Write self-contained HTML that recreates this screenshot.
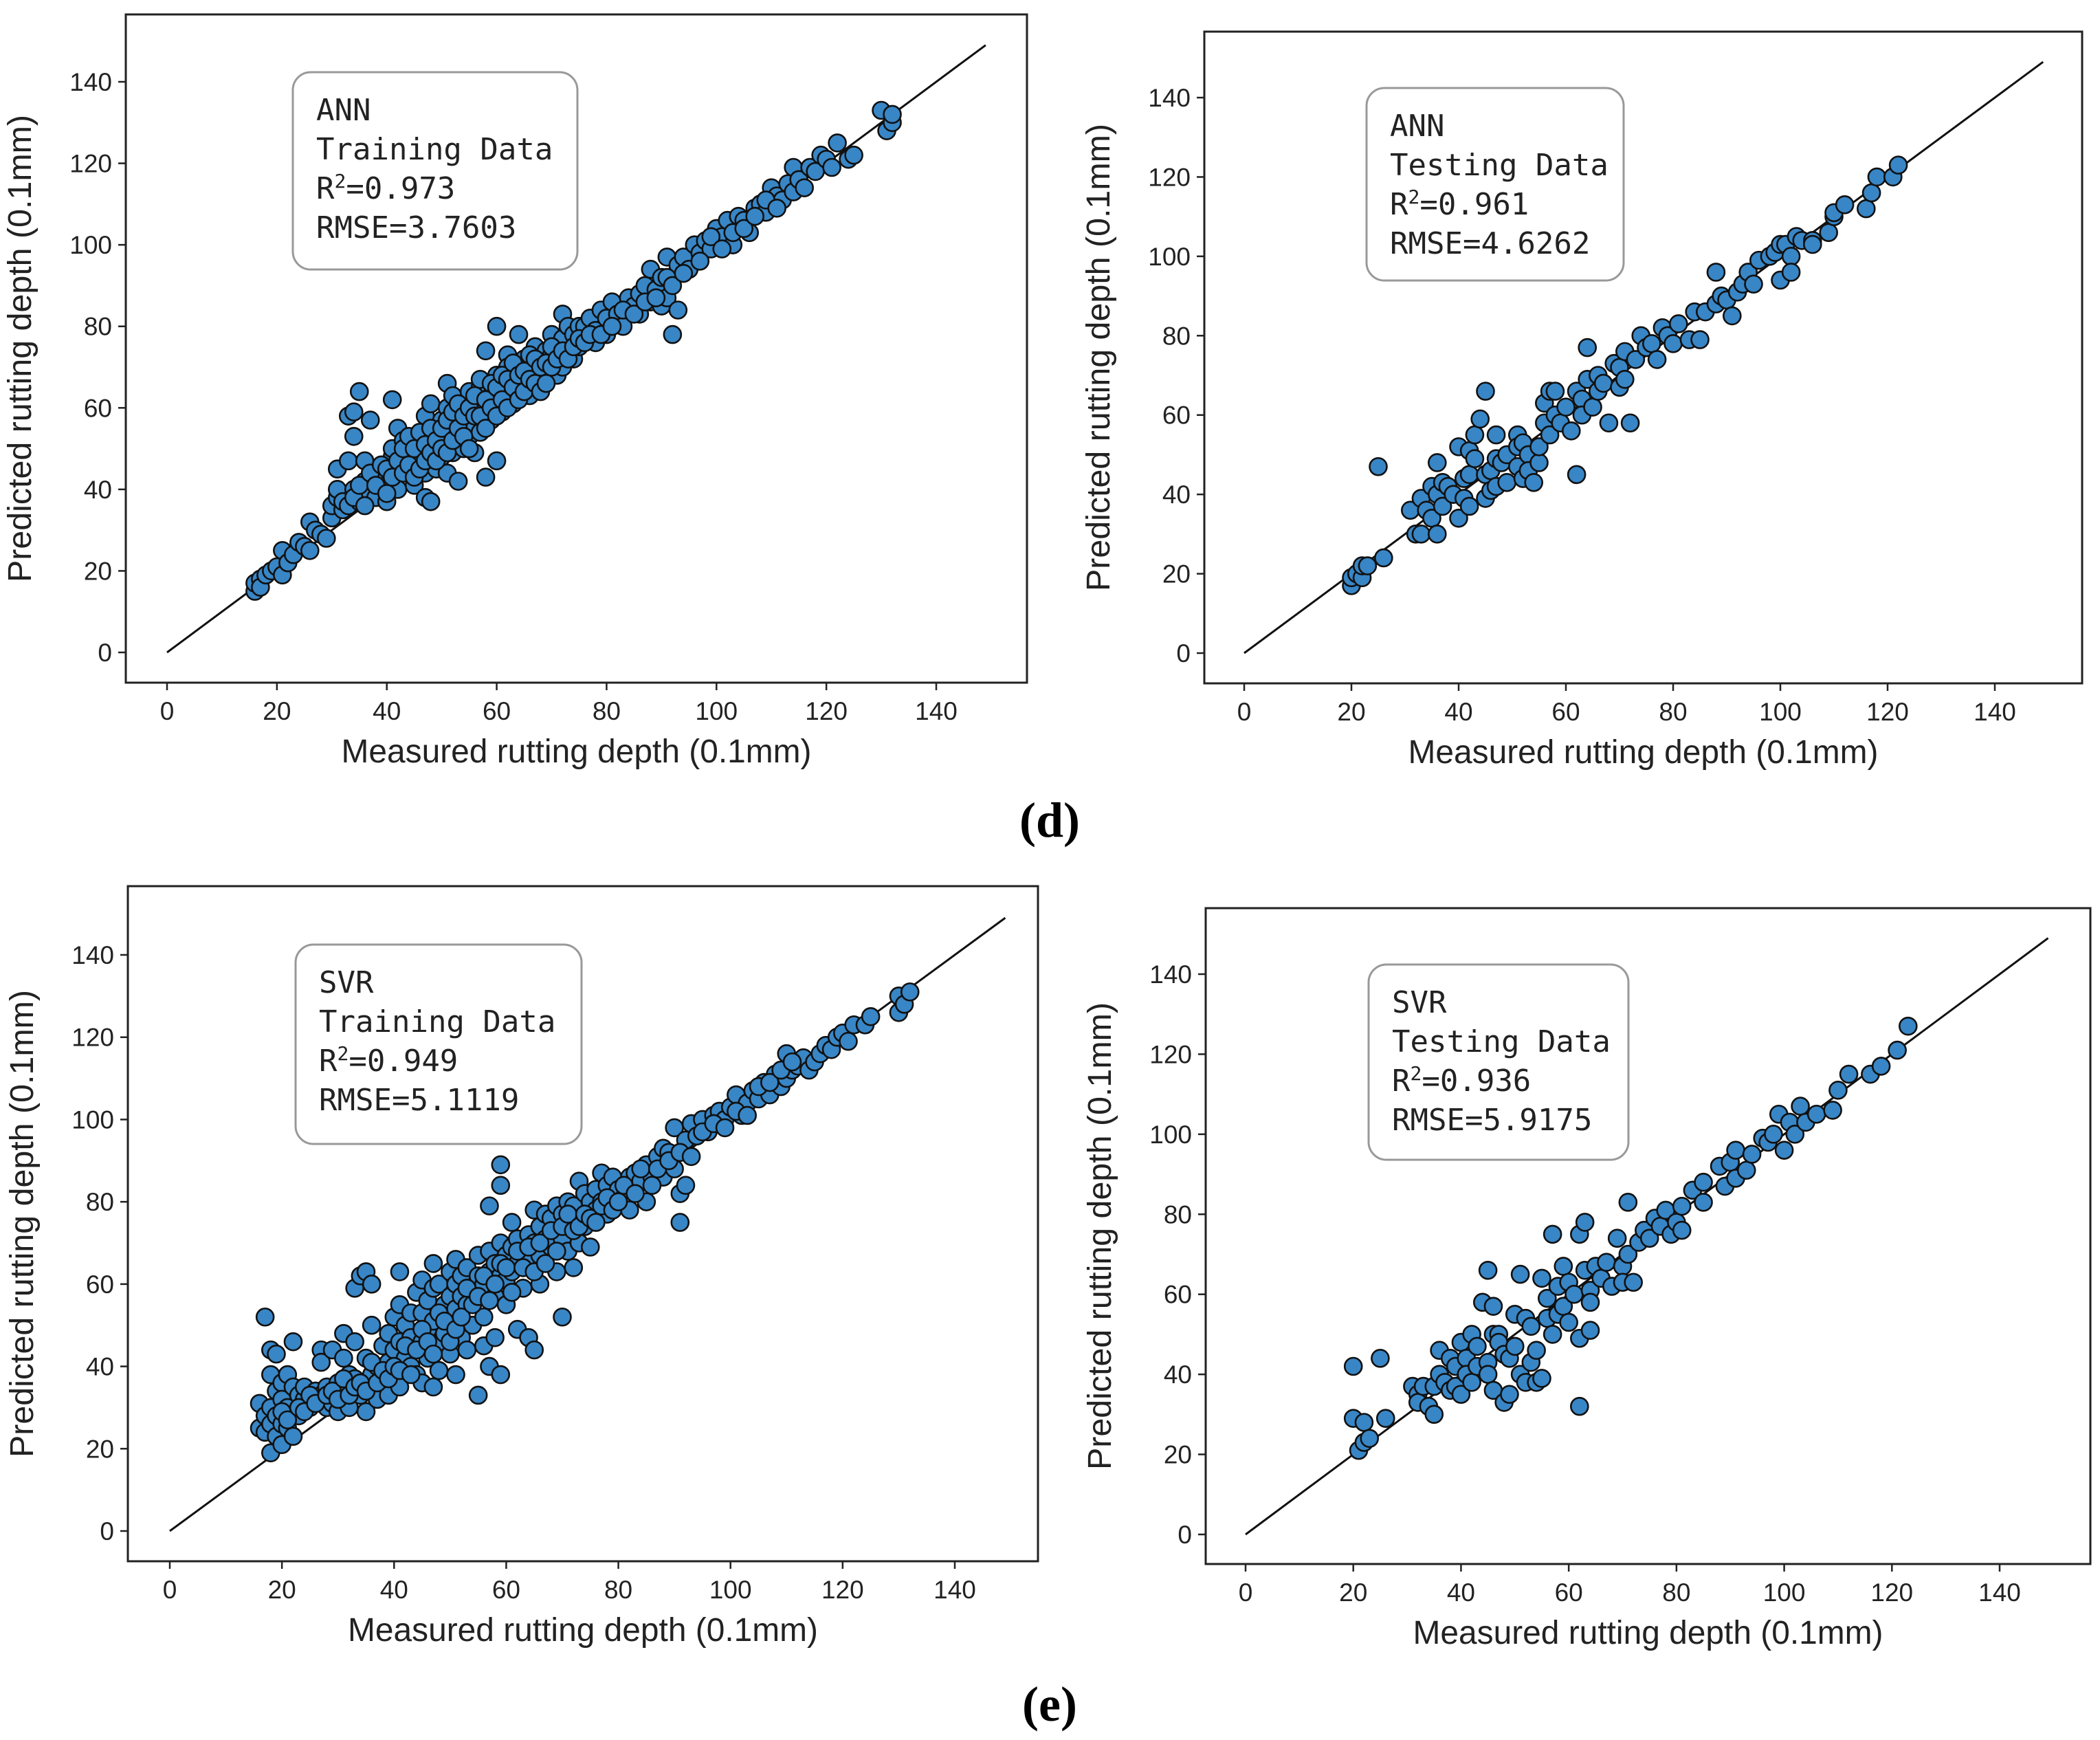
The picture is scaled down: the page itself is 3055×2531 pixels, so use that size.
<!DOCTYPE html>
<html><head><meta charset="utf-8">
<style>
html,body{margin:0;padding:0;background:#fff;}
svg{display:block;}
.tick{font-family:"Liberation Sans Narrow","Liberation Sans",sans-serif;font-size:37px;fill:#222;}
.axl{font-family:"Liberation Sans Narrow","Liberation Sans",sans-serif;font-size:48px;fill:#222;}
.box{font-family:"DejaVu Sans Mono","Liberation Mono",monospace;font-size:44px;fill:#222;}
.cap{font-family:"Liberation Serif",serif;font-size:72px;font-weight:bold;fill:#000;}
</style></head>
<body>
<svg id="fig" width="3055" height="2531" viewBox="0 0 3055 2531" xmlns="http://www.w3.org/2000/svg">
<text class="cap" x="1527" y="1217" text-anchor="middle">(d)</text>
<text class="cap" x="1527" y="2503" text-anchor="middle">(e)</text>
</svg>
<script>
const tickValues = [0,20,40,60,80,100,120,140];
const annTrainPts = [[16,15],[16,17],[17,18],[17,16],[18,19],[19,20],[20,21],[21,25],[21,19],[22,22],[23,24],[24,27],[25,26],[26,32],[26,25],[27,30],[28,29],[29,28],[30,33],[30,36],[31,45],[31,38],[31,40],[32,35],[32,37],[33,58],[33,47],[33,36],[34,53],[34,59],[34,40],[35,64],[35,37],[36,42],[36,47],[37,57],[37,39],[38,44],[38,38],[39,43],[40,41],[40,37],[41,62],[41,48],[41,50],[42,55],[42,45],[42,40],[43,52],[43,47],[44,49],[44,44],[45,46],[45,41],[46,52],[46,48],[47,58],[47,44],[47,38],[48,61],[48,52],[48,37],[49,55],[49,50],[49,45],[50,57],[50,53],[50,48],[51,66],[51,60],[51,44],[52,63],[52,55],[52,49],[53,58],[53,52],[53,42],[54,61],[54,56],[54,50],[55,64],[55,57],[55,53],[56,60],[56,55],[56,49],[57,65],[57,61],[57,54],[58,74],[58,66],[58,58],[58,43],[59,63],[59,57],[60,80],[60,68],[60,62],[60,47],[61,65],[61,59],[62,73],[62,70],[62,64],[63,68],[63,61],[64,78],[64,70],[64,65],[65,72],[65,66],[66,70],[66,63],[67,75],[67,69],[68,72],[68,66],[69,74],[69,68],[70,78],[70,73],[71,75],[71,68],[72,83],[72,77],[72,70],[73,80],[73,74],[74,78],[74,72],[75,80],[75,75],[76,80],[77,82],[78,79],[78,76],[79,84],[80,82],[80,78],[81,86],[82,83],[83,80],[84,87],[85,85],[86,88],[86,83],[87,90],[88,94],[88,86],[89,89],[90,92],[90,85],[91,97],[91,87],[92,78],[93,84],[93,95],[94,97],[95,94],[96,100],[97,98],[98,101],[99,99],[100,104],[101,102],[102,106],[103,100],[104,107],[105,106],[106,103],[107,109],[108,110],[109,108],[110,114],[111,112],[112,111],[113,115],[114,119],[114,113],[115,116],[116,114],[117,119],[118,118],[119,122],[120,121],[121,119],[122,125],[124,121],[125,122],[130,133],[131,128],[132,130],[132,132],
[34,38],[35,41],[36,36],[37,44],[38,41],[39,46],[40,45],[40,39],[41,43],[42,47],[43,44],[43,50],[44,46],[44,53],[45,50],[45,43],[46,45],[46,54],[47,47],[47,51],[48,49],[48,55],[49,52],[49,47],[50,50],[50,55],[51,49],[51,57],[52,52],[52,59],[53,55],[53,61],[54,53],[54,58],[55,60],[55,50],[56,58],[56,63],[57,58],[57,67],[58,62],[58,55],[59,60],[59,66],[60,58],[60,65],[61,62],[61,68],[62,60],[62,67],[63,65],[63,71],[64,62],[64,68],[65,64],[65,69],[66,67],[66,73],[67,66],[67,72],[68,70],[68,64],[69,71],[69,66],[70,70],[70,75],[71,72],[72,74],[73,72],[74,75],[75,77],[76,76],[77,78],[79,78],[81,80],[83,84],[85,83],[87,86],[89,87],[91,92],[92,90],[94,93],[97,96],[99,102],[101,99],[103,103],[105,104],[107,107],[109,111],[111,109]];
const annTestPts = [[20,17],[20,19],[21,20],[22,19],[22,22],[23,22],[26,24],[25,47],[31,36],[32,30],[33,39],[33,30],[34,36],[35,34],[35,42],[36,48],[36,30],[36,40],[37,43],[37,37],[38,42],[39,40],[40,52],[40,34],[41,44],[41,39],[42,51],[42,45],[42,37],[43,55],[43,49],[44,59],[45,66],[45,45],[45,39],[46,46],[46,41],[47,55],[47,49],[47,42],[48,48],[49,43],[49,50],[51,55],[51,52],[51,47],[52,53],[52,44],[53,50],[53,46],[54,43],[55,48],[55,52],[56,63],[56,58],[57,66],[57,55],[58,60],[58,66],[59,58],[60,62],[61,56],[62,45],[62,66],[63,64],[63,60],[64,69],[64,77],[65,62],[66,70],[66,66],[67,68],[68,58],[69,73],[70,72],[70,67],[71,76],[71,69],[72,58],[73,74],[74,80],[75,77],[76,78],[77,74],[78,82],[79,80],[80,78],[81,83],[83,79],[84,86],[85,79],[86,86],[88,96],[88,88],[89,90],[90,89],[91,85],[92,91],[93,93],[94,96],[95,93],[96,99],[98,100],[99,101],[100,94],[100,103],[101,103],[102,100],[102,96],[103,105],[104,104],[106,104],[106,103],[109,106],[110,110],[110,111],[112,113],[116,112],[117,116],[118,120],[121,120],[122,123]];
const svrTrainPts = [[16,31],[16,25],[17,28],[17,24],[17,52],[18,19],[18,44],[18,38],[18,30],[18,26],[19,43],[19,34],[19,28],[19,23],[20,36],[20,32],[20,26],[20,21],[21,38],[21,30],[21,25],[22,35],[22,46],[22,28],[22,23],[23,33],[23,28],[24,32],[24,35],[25,30],[26,34],[27,44],[27,41],[27,33],[28,35],[28,30],[29,44],[29,31],[30,36],[30,29],[31,48],[31,42],[31,34],[32,38],[32,30],[33,46],[33,59],[33,37],[34,62],[34,33],[35,63],[35,42],[35,29],[36,60],[36,38],[36,50],[36,34],[37,40],[37,32],[38,45],[38,36],[39,48],[39,41],[39,33],[40,52],[40,44],[40,37],[41,55],[41,63],[41,46],[41,35],[42,50],[42,42],[43,53],[43,47],[43,40],[44,58],[44,38],[45,61],[45,53],[45,46],[45,36],[46,56],[46,49],[46,42],[47,65],[47,59],[47,51],[47,35],[48,60],[48,45],[48,39],[49,55],[49,48],[50,63],[50,57],[50,51],[50,43],[51,66],[51,60],[51,54],[51,38],[52,62],[52,57],[52,47],[53,64],[53,55],[53,44],[54,59],[54,50],[55,67],[55,62],[55,33],[56,60],[56,52],[56,45],[57,79],[57,68],[57,63],[57,40],[58,65],[58,57],[58,47],[59,89],[59,84],[59,70],[59,62],[59,38],[60,67],[60,61],[60,55],[61,75],[61,69],[61,63],[62,71],[62,65],[62,49],[63,68],[63,59],[64,72],[64,66],[64,47],[65,78],[65,70],[65,44],[66,74],[66,67],[66,60],[67,77],[67,71],[68,76],[68,69],[69,79],[69,73],[69,63],[70,77],[70,71],[70,52],[71,80],[71,74],[71,68],[72,79],[72,64],[73,85],[73,76],[73,70],[74,82],[74,74],[75,80],[75,69],[76,83],[76,78],[77,87],[77,80],[78,84],[78,77],[79,86],[79,80],[80,83],[81,81],[82,86],[82,78],[83,87],[84,85],[85,89],[85,80],[86,86],[87,91],[88,93],[88,86],[89,92],[90,98],[90,88],[91,75],[91,82],[92,95],[92,84],[93,99],[94,96],[95,100],[96,97],[97,101],[98,102],[99,100],[100,103],[101,106],[102,101],[103,104],[104,107],[105,105],[106,109],[107,106],[108,111],[109,108],[110,116],[110,110],[111,112],[112,113],[113,115],[114,112],[115,114],[116,116],[117,118],[118,117],[119,120],[120,121],[121,119],[122,123],[124,123],[125,125],[130,130],[130,126],[131,128],[132,131],
[20,29],[21,27],[23,30],[24,29],[25,33],[26,31],[28,33],[29,34],[30,32],[31,37],[32,33],[33,35],[34,36],[35,34],[36,41],[37,36],[38,39],[39,37],[40,40],[41,39],[42,45],[43,38],[44,44],[45,49],[46,46],[47,43],[48,53],[49,51],[50,46],[51,49],[52,52],[53,59],[54,55],[55,57],[56,62],[57,56],[58,60],[59,65],[60,64],[61,58],[62,68],[63,64],[64,69],[65,63],[66,70],[67,65],[68,73],[69,68],[70,74],[71,77],[72,73],[73,74],[74,77],[75,76],[76,75],[77,79],[78,81],[79,78],[80,80],[81,84],[83,82],[84,88],[86,84],[87,88],[89,90],[91,92],[93,91],[95,97],[97,99],[99,98],[101,102],[103,101],[105,108],[107,109],[109,112],[111,114]];
const svrTestPts = [[20,42],[20,29],[21,21],[22,23],[22,28],[23,24],[25,44],[26,29],[31,37],[32,35],[32,33],[33,37],[34,32],[35,30],[35,37],[36,46],[36,40],[37,38],[38,44],[38,36],[39,42],[39,37],[40,48],[40,35],[41,44],[41,40],[42,50],[42,38],[43,47],[43,42],[44,58],[45,66],[45,43],[45,40],[46,57],[46,50],[46,36],[47,50],[47,48],[48,33],[48,45],[49,35],[49,44],[50,55],[50,47],[51,65],[51,40],[52,54],[52,38],[53,52],[53,43],[54,46],[54,38],[55,64],[55,39],[56,59],[56,54],[57,75],[57,50],[58,62],[58,55],[59,67],[59,57],[60,63],[60,53],[61,60],[62,75],[62,32],[62,49],[63,66],[63,78],[64,61],[64,51],[64,58],[65,67],[66,64],[67,68],[68,62],[69,74],[70,67],[70,63],[71,83],[71,70],[72,63],[73,73],[74,76],[75,74],[76,79],[77,77],[78,81],[79,75],[80,78],[81,82],[81,76],[83,86],[85,83],[85,88],[88,92],[89,87],[90,93],[91,89],[91,96],[93,91],[94,95],[96,99],[97,98],[98,100],[99,105],[100,96],[101,103],[102,100],[103,107],[104,103],[106,105],[109,106],[110,111],[112,115],[116,115],[118,117],[121,121],[123,127]];
const modelNames = ["ANN","ANN","SVR","SVR"];
const dataNames = ["Training Data","Testing Data","Training Data","Testing Data"];
const r2Values = ["0.973","0.961","0.949","0.936"];
const rmseValues = ["3.7603","4.6262","5.1119","5.9175"];
const panelData = [annTrainPts, annTestPts, svrTrainPts, svrTestPts];

const layouts = [
 {L:183,R:1494,T:21,B:993,x0:243,x140:1362,y0:949,y140:119,bx:426,by:105,bw:414,bh:287,id:'ann-train'},
 {L:1752,R:3029,T:46,B:994,x0:1810,x140:2902,y0:950,y140:142,bx:1988,by:128,bw:374,bh:280,id:'ann-test'},
 {L:186,R:1510,T:1289,B:2271,x0:247,x140:1389,y0:2227,y140:1389,bx:430,by:1374,bw:416,bh:290,id:'svr-train'},
 {L:1754,R:3041,T:1321,B:2275,x0:1812,x140:2909,y0:2232,y140:1417,bx:1991,by:1403,bw:378,bh:284,id:'svr-test'}
];
const NS='http://www.w3.org/2000/svg';
const svg=document.getElementById('fig');
function mk(tag,attrs,parent){const e=document.createElementNS(NS,tag);for(const k in attrs)e.setAttribute(k,attrs[k]);(parent||svg).appendChild(e);return e;}
layouts.forEach((p,i)=>{
  const sx=v=>p.x0+(p.x140-p.x0)*v/140;
  const sy=v=>p.y0-(p.y0-p.y140)*v/140;
  const g=mk('g',{});
  
  
  const diag=mk('line',{x1:sx(0),y1:sy(0),x2:sx(149),y2:sy(149),stroke:'#111','stroke-width':3},g);
  
  
  panelData[i].forEach(pt=>{
    const c=mk('circle',{cx:sx(pt[0]),cy:sy(pt[1]),r:12.5,fill:'#3886c6',stroke:'#111','stroke-width':2.6},g);
    
    
  });
  const frame=mk('rect',{x:p.L,y:p.T,width:p.R-p.L,height:p.B-p.T,fill:'none',stroke:'#222','stroke-width':3},g);
  
  
  tickValues.forEach(v=>{
    mk('line',{x1:sx(v),y1:p.B,x2:sx(v),y2:p.B+11,stroke:'#222','stroke-width':2.5},g);
    const tx=mk('text',{x:sx(v),y:p.B+54,'text-anchor':'middle',class:'tick'},g);
    tx.textContent=v;
    
    
    mk('line',{x1:p.L-11,y1:sy(v),x2:p.L,y2:sy(v),stroke:'#222','stroke-width':2.5},g);
    const ty=mk('text',{x:p.L-20,y:sy(v)+13,'text-anchor':'end',class:'tick'},g);
    ty.textContent=v;
    
    
  });
  const xl=mk('text',{x:(p.L+p.R)/2,y:p.B+116,'text-anchor':'middle',class:'axl',textLength:684,lengthAdjust:'spacingAndGlyphs'},g);
  xl.textContent='Measured rutting depth (0.1mm)';
  
  
  const yc=(p.T+p.B)/2, yx=p.L-138;
  const yl=mk('text',{x:yx,y:yc,'text-anchor':'middle',class:'axl',textLength:680,lengthAdjust:'spacingAndGlyphs',transform:`rotate(-90 ${yx} ${yc})`},g);
  yl.textContent='Predicted rutting depth (0.1mm)';
  
  
  const bx=mk('rect',{x:p.bx,y:p.by,width:p.bw,height:p.bh,rx:26,fill:'#fff',stroke:'#999','stroke-width':3},g);
  
  
  const lines=[modelNames[i],dataNames[i],null,'RMSE='+rmseValues[i]];
  const tx0=p.bx+34, ty0=p.by+70;
  lines.forEach((s,k)=>{
    const t=mk('text',{x:tx0,y:ty0+k*57,class:'box'},g);
    if(s===null){
      t.appendChild(document.createTextNode('R'));
      const sup=mk('tspan',{dy:-16,'font-size':28},t);sup.textContent='2';
      const rest=mk('tspan',{dy:16},t);rest.textContent='='+r2Values[i];
    } else t.textContent=s;
    
    
  });
});
</script>
</body></html>
